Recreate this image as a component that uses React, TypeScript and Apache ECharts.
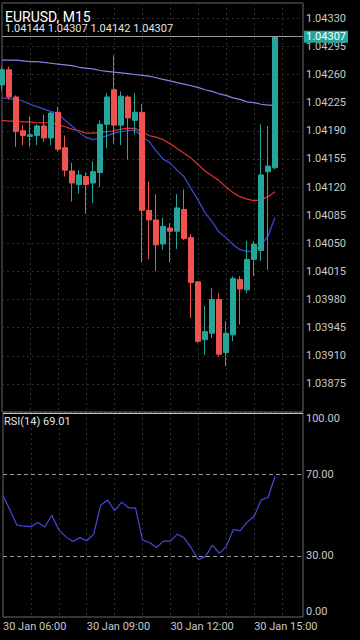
import React, { useEffect, useRef } from 'react';
import * as echarts from 'echarts';

const DATE = '30 Jan';
const TIMES = [
  '06:00', '06:15', '06:30', '06:45', '07:00', '07:15', '07:30', '07:45',
  '08:00', '08:15', '08:30', '08:45', '09:00', '09:15', '09:30', '09:45',
  '10:00', '10:15', '10:30', '10:45', '11:00', '11:15', '11:30', '11:45',
  '12:00', '12:15', '12:30', '12:45', '13:00', '13:15', '13:30', '13:45',
  '14:00', '14:15', '14:30', '14:45', '15:00', '15:15', '15:30', '15:45',
  '16:00', '16:15', '16:30', '16:45',
];

const OPEN = [
  1.04247, 1.04266, 1.04232, 1.0419, 1.04183, 1.04184, 1.04196, 1.04181, 1.04213, 1.04169,
  1.0414, 1.04123, 1.04133, 1.04125, 1.04138, 1.04198, 1.04241, 1.04197, 1.04232, 1.04203,
  1.04213, 1.04091, 1.04079, 1.04049, 1.04069, 1.04065, 1.04092, 1.04057, 1.04002, 1.0393,
  1.03938, 1.0398, 1.03914, 1.03936, 1.04005, 1.03992, 1.0403, 1.04041, 1.04139, 1.04144,
];
const CLOSE = [
  1.04266, 1.04232, 1.04189, 1.04184, 1.04185, 1.04196, 1.04181, 1.04212, 1.04167, 1.04141,
  1.04125, 1.04135, 1.04123, 1.04139, 1.04198, 1.04232, 1.04197, 1.04233, 1.04206, 1.04213,
  1.04091, 1.04079, 1.04048, 1.04071, 1.04065, 1.04094, 1.04056, 1.04001, 1.03928, 1.0394,
  1.0398, 1.03912, 1.03938, 1.04006, 1.03993, 1.0403, 1.04049, 1.04135, 1.04146, 1.04307,
];
const LOW = [
  1.0424, 1.04229, 1.0417, 1.04172, 1.0417, 1.04172, 1.04176, 1.04172, 1.04164, 1.04133,
  1.04102, 1.04112, 1.04087, 1.041, 1.0412, 1.04168, 1.04174, 1.04172, 1.04154, 1.04185,
  1.04026, 1.0403, 1.04015, 1.04042, 1.04026, 1.04043, 1.04054, 1.03957, 1.03926, 1.03911,
  1.03932, 1.03909, 1.03897, 1.03928, 1.03949, 1.03988, 1.04009, 1.04028, 1.04017, 1.04142,
];
const HIGH = [
  1.0427, 1.0427, 1.04234, 1.04197, 1.04208, 1.04198, 1.0421, 1.04214, 1.0422, 1.04184,
  1.0415, 1.04141, 1.04138, 1.04152, 1.04203, 1.04237, 1.04284, 1.04239, 1.04234, 1.04237,
  1.04223, 1.04127, 1.04111, 1.04082, 1.04075, 1.04111, 1.04117, 1.04061, 1.04003, 1.03972,
  1.03994, 1.03988, 1.03953, 1.04009, 1.04009, 1.04053, 1.04053, 1.04198, 1.04196, 1.04307,
];

const MA_SLOW = [
  1.04278, 1.04278, 1.04278, 1.04277, 1.04276, 1.04276, 1.04275, 1.04274, 1.04273, 1.04272,
  1.04271, 1.04269, 1.04268, 1.04267, 1.04265, 1.04264, 1.04263, 1.04262, 1.04261, 1.0426,
  1.04259, 1.04258, 1.04256, 1.04254, 1.04252, 1.0425, 1.04248, 1.04246, 1.04244, 1.04241,
  1.04239, 1.04236, 1.04234, 1.04231, 1.04229, 1.04226, 1.04225, 1.04223, 1.04222, 1.04222,
];
const MA_MID = [
  1.04203, 1.04202, 1.04202, 1.04201, 1.04201, 1.042, 1.042, 1.042, 1.04198, 1.04195,
  1.04192, 1.0419, 1.04187, 1.04187, 1.04188, 1.04189, 1.0419, 1.04192, 1.04193, 1.04193,
  1.04189, 1.04184, 1.04182, 1.04179, 1.04174, 1.04168, 1.04162, 1.04156, 1.04148, 1.0414,
  1.04134, 1.04128, 1.0412, 1.04113, 1.04108, 1.04105, 1.04103, 1.04104, 1.04108, 1.04114,
];
const MA_FAST = [
  1.04231, 1.0423, 1.04229, 1.04227, 1.04223, 1.0422, 1.04217, 1.04214, 1.04212, 1.04203,
  1.04196, 1.04188, 1.04182, 1.04179, 1.04181, 1.04184, 1.04187, 1.04189, 1.0419, 1.04191,
  1.04182, 1.04177, 1.04165, 1.04155, 1.0415, 1.04141, 1.04133, 1.04118, 1.04104, 1.04088,
  1.04077, 1.04064, 1.04057, 1.04048, 1.04042, 1.0404, 1.0404, 1.04048, 1.04059, 1.04082,
];

const RSI = [
  59.7, 52.4, 45.0, 44.5, 44.3, 46.3, 44.1, 49.9, 42.6, 39.4,
  37.0, 38.9, 37.4, 40.6, 54.8, 57.3, 52.1, 56.3, 53.6, 53.4,
  37.7, 36.5, 34.1, 37.2, 37.2, 40.6, 38.7, 33.8, 28.1, 29.6,
  35.2, 31.3, 34.5, 42.8, 42.3, 46.5, 49.4, 57.3, 58.7, 69.01,
];

const PRICE_MIN = 1.0384;
const PRICE_MAX = 1.04349;
const PRICE_STEP = 0.00035;
const RSI_LEVELS = [0, 30, 70, 100];

const BULL = '#26a69a';
const BEAR = '#ef5350';
const GRID_LINE = '#2e2e2e';
const LABEL = '#c8c8c8';
const FONT = 'Roboto';

export default function App() {
  const ref = useRef<HTMLDivElement>(null);

  useEffect(() => {
    document.body.style.margin = '0';
    document.body.style.background = '#000';
    const chart = echarts.init(ref.current as HTMLDivElement, null, { renderer: 'svg' });
    const candles = OPEN.map((o, i) => [o, CLOSE[i], LOW[i], HIGH[i]]);
    const last = candles.length - 1;
    const ohlc = [OPEN[last], HIGH[last], LOW[last], CLOSE[last]].map((v) => v.toFixed(5)).join(' ');

    const option: any = {
      animation: false,
      backgroundColor: '#000',
      textStyle: { fontFamily: FONT },
      title: [
        { text: 'EURUSD, M15', left: 5, top: 10.5, padding: 0, textStyle: { color: '#ffffff', fontSize: 14, lineHeight: 12, fontWeight: 'normal', fontFamily: FONT } },
        { text: ohlc, left: 5, top: 23.5, padding: 0, textStyle: { color: '#e0e0e0', fontSize: 11, lineHeight: 10, fontWeight: 'normal', fontFamily: FONT } },
        { text: 'RSI(14) ' + RSI[RSI.length - 1].toFixed(2), left: 4, top: 416, padding: 0, textStyle: { color: '#e0e0e0', fontSize: 11, lineHeight: 11, fontWeight: 'normal', fontFamily: FONT } },
      ],
      grid: [
        { left: 2, top: 3, width: 301, height: 409, show: true, borderColor: '#6a6a6a', borderWidth: 1 },
        { left: 2, top: 413, width: 301, height: 204, show: true, borderColor: '#6a6a6a', borderWidth: 1 },
      ],
      xAxis: [
        {
          type: 'category', gridIndex: 0, data: TIMES, boundaryGap: false,
          axisLine: { show: false }, axisTick: { show: false }, axisLabel: { show: false },
          splitLine: { show: true, interval: 3, lineStyle: { color: GRID_LINE, type: [2, 3] } },
        },
        {
          type: 'category', gridIndex: 1, data: TIMES, boundaryGap: false,
          axisLine: { show: false }, axisTick: { show: false },
          axisLabel: { show: true, interval: 11, align: 'left', margin: 4, color: LABEL, fontSize: 11, fontFamily: FONT, formatter: (v: string) => DATE + ' ' + v },
          splitLine: { show: true, interval: 3, lineStyle: { color: GRID_LINE, type: [2, 3] } },
        },
      ],
      yAxis: [
        {
          type: 'value', gridIndex: 0, position: 'right', min: PRICE_MIN, max: PRICE_MAX, interval: PRICE_STEP,
          axisLine: { show: false }, axisTick: { show: false },
          axisLabel: { margin: 3, color: LABEL, fontSize: 11, fontFamily: FONT, showMinLabel: false, showMaxLabel: false, formatter: (v: number) => v.toFixed(5) },
          splitLine: { show: true, lineStyle: { color: GRID_LINE, type: [2, 3] } },
        },
        {
          type: 'value', gridIndex: 1, position: 'right', min: 0, max: 100, interval: 10,
          axisLine: { show: false }, axisTick: { show: false }, splitLine: { show: false },
          axisLabel: {
            margin: 3, color: LABEL, fontSize: 11, fontFamily: FONT,
            formatter: (v: number) => {
              if (!RSI_LEVELS.includes(v)) return '';
              if (v === RSI_LEVELS[RSI_LEVELS.length - 1]) return '{t|' + v.toFixed(2) + '}';
              if (v === RSI_LEVELS[0]) return '{b|' + v.toFixed(2) + '}';
              return v.toFixed(2);
            },
            rich: {
              t: { padding: [11, 0, 0, 0], color: LABEL, fontSize: 11, fontFamily: FONT },
              b: { padding: [0, 0, 11, 0], color: LABEL, fontSize: 11, fontFamily: FONT },
            },
          },
        },
      ],
      series: [
        {
          type: 'candlestick', xAxisIndex: 0, yAxisIndex: 0, data: candles, barWidth: 5,
          itemStyle: { color: BULL, color0: BEAR, borderColor: BULL, borderColor0: BEAR, borderWidth: 1 },
          z: 3,
        },
        {
          type: 'line', xAxisIndex: 0, yAxisIndex: 0, data: MA_SLOW, symbol: 'none', lineStyle: { color: '#9a78e6', width: 1.2 }, z: 2,
          markLine: {
            silent: true, symbol: ['none', 'none'], precision: 5,
            data: [{ yAxis: CLOSE[last] }],
            lineStyle: { color: '#9a9a9a', width: 1, type: 'solid' },
            label: {
              position: 'end', distance: 1, formatter: CLOSE[last].toFixed(5),
              backgroundColor: BULL, color: '#ffffff', fontSize: 11, fontFamily: FONT, padding: [1, 2, 0, 2],
            },
          },
        },
        { type: 'line', xAxisIndex: 0, yAxisIndex: 0, data: MA_MID, symbol: 'none', lineStyle: { color: '#e0302c', width: 1.2 }, z: 2 },
        { type: 'line', xAxisIndex: 0, yAxisIndex: 0, data: MA_FAST, symbol: 'none', lineStyle: { color: '#3a4be0', width: 1.2 }, z: 2 },
        {
          type: 'line', xAxisIndex: 1, yAxisIndex: 1, data: RSI, symbol: 'none', lineStyle: { color: '#4747dd', width: 1.2 },
          markLine: {
            silent: true, symbol: ['none', 'none'], label: { show: false },
            data: [
              { yAxis: RSI_LEVELS[1], lineStyle: { color: '#9a9a9a', width: 1, type: [4, 3] } },
              { yAxis: RSI_LEVELS[2], lineStyle: { color: '#9a9a9a', width: 1, type: [4, 3] } },
              { yAxis: RSI_LEVELS[3], lineStyle: { color: '#c4c4c4', width: 1, type: 'solid' } },
            ],
          },
        },
      ],
    };
    chart.setOption(option);
    return () => chart.dispose();
  }, []);

  return (
    <div
      ref={ref}
      style={{ position: 'fixed', left: 0, top: 0, width: 360, height: 640, background: '#000' }}
    />
  );
}
